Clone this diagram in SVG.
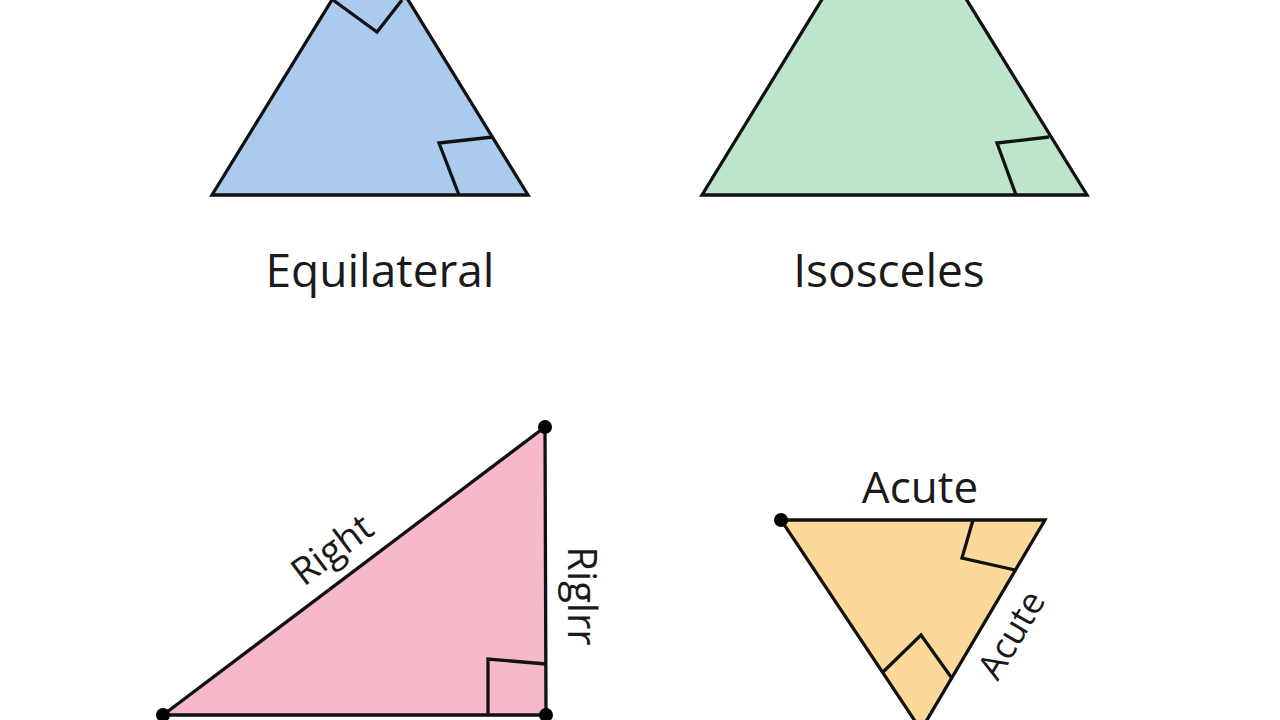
<svg xmlns="http://www.w3.org/2000/svg" width="1280" height="720" viewBox="0 0 1280 720">
<style>
.tri{stroke:#111;stroke-width:3.3;stroke-linejoin:miter}
.mark{fill:none;stroke:#111;stroke-width:3.3}
.lbl{font-family:"Open Sans","Liberation Sans",sans-serif;fill:#1a1a1a}
.dot{fill:#000}
</style>
<rect width="1280" height="720" fill="#ffffff"/>
<g id="equilateral">
<polygon class="tri" points="370,-62 528,195 212,195" fill="#aacbed" stroke="#0f1b2c"/>
<polyline class="mark" points="333,0 377,32 402,0" stroke="#0f1b2c"/>
<polyline class="mark" points="493,137 439,143 459,195" stroke="#0f1b2c"/>
<text class="lbl" x="380" y="287" font-size="46" text-anchor="middle">Equilateral</text>
</g>
<g id="isosceles">
<polygon class="tri" points="894,-118 1087,195 702,195" fill="#bce5cb"/>
<polyline class="mark" points="1049,137 997,143 1016,195"/>
<text class="lbl" x="889" y="287" font-size="46" text-anchor="middle">Isosceles</text>
</g>
<g id="right">
<polygon class="tri" points="545,427 546,715 163,715" fill="#f7b8c9"/>
<polyline class="mark" points="546,664 488,659 488,715"/>
<circle class="dot" cx="545" cy="427" r="7"/>
<circle class="dot" cx="163" cy="715" r="7"/>
<circle class="dot" cx="546" cy="715" r="7"/>
<text class="lbl" font-size="38" text-anchor="middle" transform="translate(340,560) rotate(-37)">Right</text>
<text class="lbl" font-size="40" text-anchor="middle" transform="translate(568,596) rotate(90)">Riglrr</text>
</g>
<g id="acute">
<polygon class="tri" points="781,520 1045,520 921,730" fill="#fcd999"/>
<polyline class="mark" points="973,520 962,558 1015,570"/>
<polyline class="mark" points="883,672 921,635 951,677"/>
<circle class="dot" cx="781" cy="520" r="7"/>
<text class="lbl" x="920" y="503" font-size="44" text-anchor="middle">Acute</text>
<text class="lbl" font-size="36" text-anchor="middle" transform="translate(1022,641) rotate(-59.4)">Acute</text>
</g>
</svg>
